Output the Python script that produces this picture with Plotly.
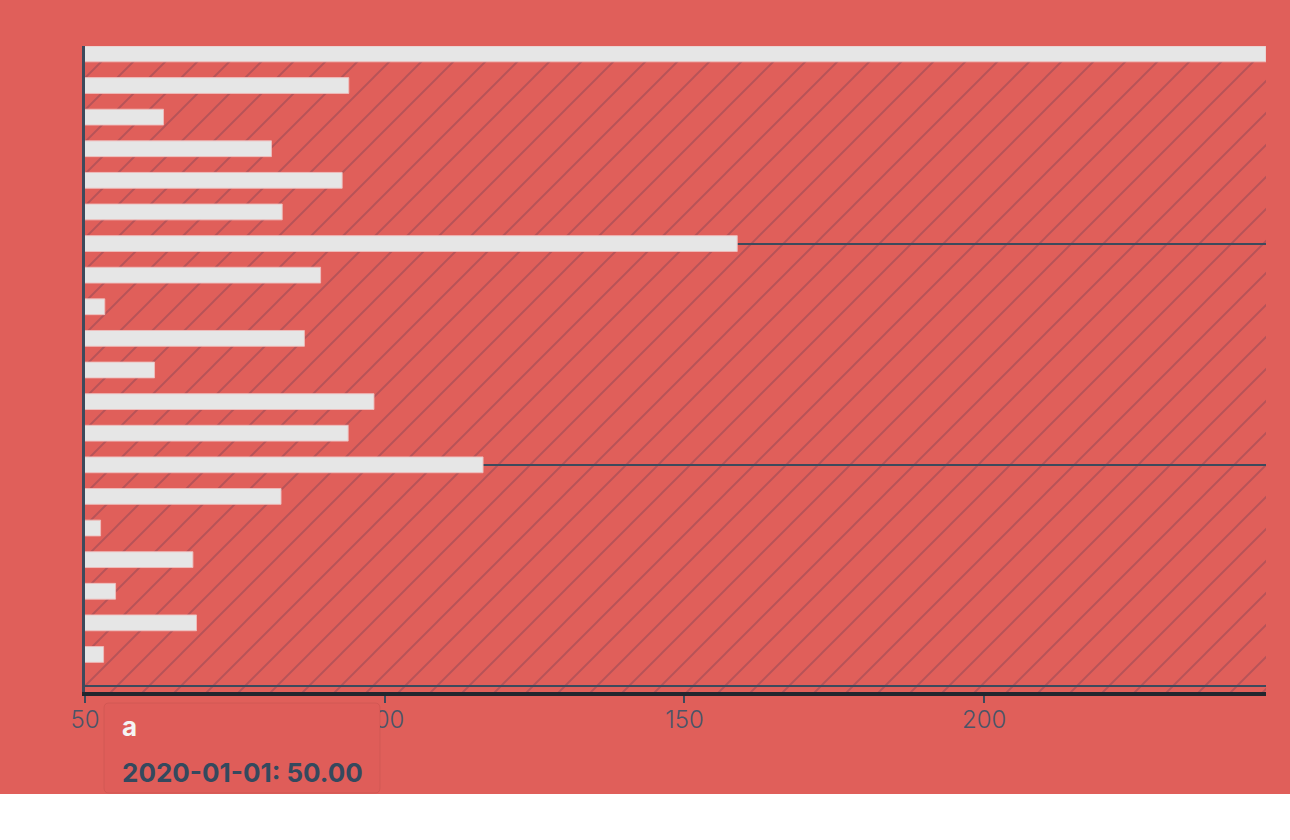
import base64
import plotly.graph_objects as go

# one bar per day, listed bottom to top
dates = [
    "2020-01-01", "2020-01-02", "2020-01-03", "2020-01-04", "2020-01-05",
    "2020-01-06", "2020-01-07", "2020-01-08", "2020-01-09", "2020-01-10",
    "2020-01-11", "2020-01-12", "2020-01-13", "2020-01-14", "2020-01-15",
    "2020-01-16", "2020-01-17", "2020-01-18", "2020-01-19", "2020-01-20",
]
values_a = [
    53.1, 68.6, 55.1, 68.0, 52.6,
    82.7, 116.4, 93.9, 98.2, 61.6,
    86.6, 53.3, 89.3, 158.8, 82.9,
    92.9, 81.1, 63.1, 94.0, 247.0,
]
series_name = "a"
tooltip_title = "a"
tooltip_text = "2020-01-01: 50.00"

BG = "#E05F5A"
SLATE = "#3d4a5c"
W, H = 1290, 794
L, R, T, B = 85, 24, 46, 102
PW, PH = W - L - R, H - T - B


def hatch_svg(w, h, step=32, color="rgba(60,48,78,0.24)", lw=2):
    svg = (
        f'<svg xmlns="http://www.w3.org/2000/svg" width="{w}" height="{h}" '
        f'viewBox="0 0 {w} {h}" preserveAspectRatio="none">'
        f'<defs><pattern id="p" patternUnits="userSpaceOnUse" width="{step}" height="{step}">'
        f'<path d="M-{step/4},{step/4} l{step/2},-{step/2} M0,{step} L{step},0 '
        f'M{step*3/4},{step*5/4} l{step/2},-{step/2}" stroke="{color}" stroke-width="{lw}"/>'
        f'</pattern></defs><rect width="{w}" height="{h}" fill="url(#p)"/></svg>'
    )
    return "data:image/svg+xml;base64," + base64.b64encode(svg.encode()).decode()


fig = go.Figure()

fig.add_trace(
    go.Bar(
        x=values_a,
        y=dates,
        orientation="h",
        name=series_name,
        width=43200000,
        marker=dict(color="#e6e6e6", line=dict(color="rgba(240,190,188,0.9)", width=1)),
        hovertemplate="%{y|%Y-%m-%d}: %{x:.2f}<extra>a</extra>",
    )
)

# the floating tooltip box under the axis
fig.add_shape(
    type="path",
    xref="paper", yref="paper",
    xsizemode="pixel", ysizemode="pixel",
    xanchor=0, yanchor=0,
    path="M 24,-11 L 290,-11 Q 295,-11 295,-16 L 295,-96 Q 295,-101 290,-101 "
         "L 24,-101 Q 19,-101 19,-96 L 19,-16 Q 19,-11 24,-11 Z",
    fillcolor="#DF5D59",
    line=dict(color="rgba(0,0,0,0.06)", width=1),
    layer="above",
)

fig.add_annotation(
    x=0, y=0, xref="paper", yref="paper", xanchor="left", yanchor="middle",
    xshift=35, yshift=-34, showarrow=False,
    text=f"<b>{tooltip_title}</b>",
    font=dict(family="Inter", size=26, color="#f4f4f4"),
)
fig.add_annotation(
    x=0, y=0, xref="paper", yref="paper", xanchor="left", yanchor="middle",
    xshift=35, yshift=-80, showarrow=False,
    text=f"<b>{tooltip_text}</b>",
    font=dict(family="Inter", size=26, color="#34495e"),
)

fig.add_layout_image(
    source=hatch_svg(PW, PH),
    xref="paper", yref="paper",
    x=0, y=1, sizex=1, sizey=1,
    xanchor="left", yanchor="top",
    sizing="stretch", layer="below",
)

fig.update_layout(
    width=W,
    height=H,
    margin=dict(l=L, r=R, t=T, b=B),
    paper_bgcolor=BG,
    plot_bgcolor="rgba(0,0,0,0)",
    showlegend=False,
    font=dict(family="Inter"),
    xaxis=dict(
        range=[50, 247],
        tick0=0,
        dtick=50,
        showgrid=False,
        zeroline=False,
        showline=True,
        linecolor="#22262e",
        linewidth=3.5,
        ticks="outside",
        ticklen=7,
        tickwidth=2,
        tickcolor=SLATE,
        ticklabelstandoff=-4,
        tickfont=dict(family="Inter", size=24, color="#4a5568", weight=300),
    ),
    yaxis=dict(
        type="date",
        range=["2019-12-30 19:30", "2020-01-20 06:00"],
        tick0="2019-12-31",
        dtick=604800000,
        showticklabels=False,
        ticks="",
        showgrid=True,
        gridcolor=SLATE,
        gridwidth=2,
        zeroline=False,
        showline=True,
        linecolor=SLATE,
        linewidth=2.5,
    ),
)

fig.write_html(
    "out.html",
    config={"displayModeBar": False},
    post_script="document.body.style.margin = '0';",
)
